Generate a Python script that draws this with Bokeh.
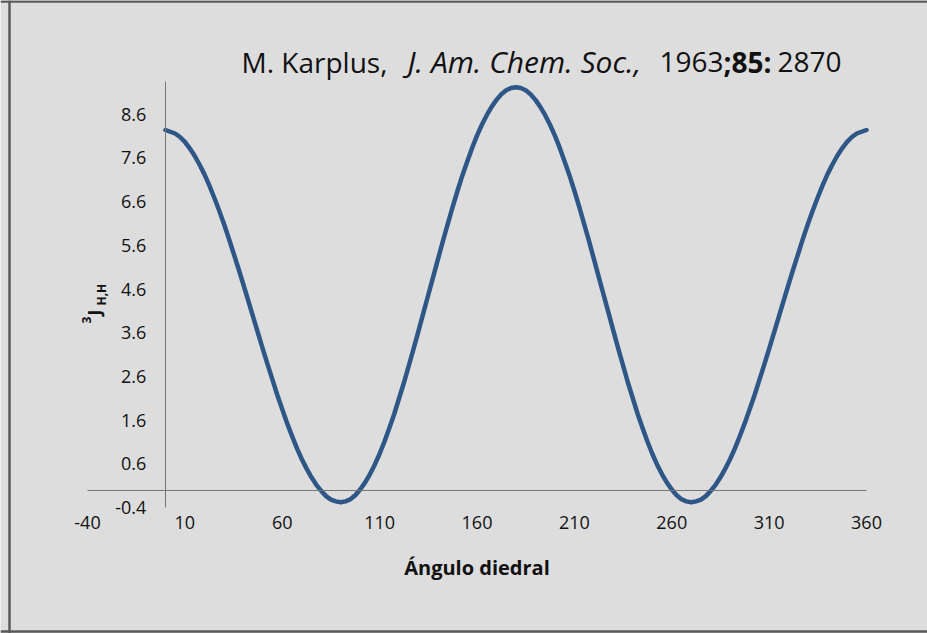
import math
from bokeh.plotting import figure
from bokeh.models import Range1d, FixedTicker, Span, Label, LinearAxis
from bokeh.embed import file_html
from bokeh.resources import INLINE

# ---- data (every 2.5 degrees) ----
angles = [a / 2 for a in range(0, 721, 5)]
j_values = [
    # 0 .. 90
    8.24, 8.20, 8.16, 8.08, 7.97, 7.82, 7.65, 7.45, 7.23, 6.98, 6.70, 6.41, 6.10, 5.77, 5.42, 5.07, 4.71, 4.34, 3.97,
    3.60, 3.23, 2.87, 2.52, 2.17, 1.85, 1.53, 1.24, 0.96, 0.71, 0.49, 0.29, 0.12, -0.02, -0.14, -0.22, -0.26, -0.28,
    # 92.5 .. 180
    -0.26, -0.21, -0.12, 0.01, 0.17, 0.36, 0.58, 0.83, 1.11, 1.42, 1.74, 2.10, 2.46, 2.85, 3.24, 3.65, 4.06, 4.47,
    4.88, 5.29, 5.70, 6.09, 6.48, 6.85, 7.20, 7.52, 7.83, 8.11, 8.36, 8.58, 8.77, 8.93, 9.06, 9.15, 9.20, 9.22,
    # 182.5 .. 270
    9.20, 9.15, 9.06, 8.93, 8.77, 8.58, 8.36, 8.11, 7.83, 7.52, 7.20, 6.85, 6.48, 6.09, 5.70, 5.29, 4.88, 4.47,
    4.06, 3.65, 3.24, 2.85, 2.46, 2.10, 1.74, 1.42, 1.11, 0.83, 0.58, 0.36, 0.17, 0.01, -0.12, -0.21, -0.26, -0.28,
    # 272.5 .. 360
    -0.26, -0.22, -0.14, -0.02, 0.12, 0.29, 0.49, 0.71, 0.96, 1.24, 1.53, 1.85, 2.17, 2.52, 2.87, 3.23, 3.60, 3.97,
    4.34, 4.71, 5.07, 5.42, 5.77, 6.10, 6.41, 6.70, 6.98, 7.23, 7.45, 7.65, 7.82, 7.97, 8.08, 8.16, 8.20, 8.24,
]
x_ticks = [-40, 10, 60, 110, 160, 210, 260, 310, 360]
x_tick_labels = ["-40", "10", "60", "110", "160", "210", "260", "310", "360"]
y_ticks = [-0.4, 0.6, 1.6, 2.6, 3.6, 4.6, 5.6, 6.6, 7.6, 8.6]
y_tick_labels = ["-0.4", "0.6", "1.6", "2.6", "3.6", "4.6", "5.6", "6.6", "7.6", "8.6"]
x_axis_label = "Ángulo diedral"
y_axis_parts = ["3", "J", "H,H"]
title_parts = ["M. Karplus,", "J. Am. Chem. Soc.,", "1963", ";85:", "2870"]

# value extent of the plotting area
X0, X1 = -40, 360
Y0, Y1 = -0.4, 9.35

# ---- layout (pixels) ----
W, H = 927, 633
PL, PR, PT, PB = 87, 866, 81, 507          # plotting area box on the canvas
FONT = "Open Sans"
BG = "#dddddd"
AXIS = "#767676"
TXT = "#111111"
BORDER = "#5a5a5a"

kx = (PR - PL) / (X1 - X0)
ky = (PB - PT) / (Y1 - Y0)

def px(v):
    return X0 + (v - PL) / kx

def py(v):
    return Y1 - (v - PT) / ky

p = figure(frame_width=W, frame_height=H, min_border=0,
           x_range=Range1d(px(0), px(W)), y_range=Range1d(py(H), py(0)),
           x_axis_location=None, y_axis_location=None,
           output_backend="svg", toolbar_location=None,
           background_fill_color=BG, border_fill_color=BG)
p.outline_line_color = None
p.grid.visible = False

# chart border (left, top, bottom)
p.add_layout(Span(location=px(9), dimension="height", line_color=BORDER, line_width=2.5))
p.add_layout(Span(location=py(1), dimension="width", line_color=BORDER, line_width=2.5))
p.add_layout(Span(location=py(631), dimension="width", line_color=BORDER, line_width=2.5))

# curve
p.line(angles, j_values, line_color="#2e5686", line_width=4.5, line_join="round", line_cap="round")

# x axis line at y = 0
x_line = LinearAxis(fixed_location=0, bounds=(X0, X1), ticker=FixedTicker(ticks=[]),
                    axis_line_color=AXIS, axis_line_width=1,
                    major_tick_line_color=None, minor_tick_line_color=None)
p.add_layout(x_line, "below")

# x tick labels and title at the bottom of the plotting area
xa = LinearAxis(fixed_location=Y0, bounds=(X0, X1), ticker=FixedTicker(ticks=x_ticks),
                axis_line_color=None, major_tick_line_color=None, minor_tick_line_color=None,
                major_tick_out=0, major_tick_in=0)
xa.major_label_overrides = {t: s for t, s in zip(x_ticks, x_tick_labels)}
xa.major_label_text_font = FONT
xa.major_label_text_font_size = "18px"
xa.major_label_text_color = TXT
xa.major_label_standoff = 8
xa.axis_label = x_axis_label
xa.axis_label_text_font = FONT
xa.axis_label_text_font_style = "bold"
xa.axis_label_text_font_size = "20px"
xa.axis_label_text_color = TXT
xa.axis_label_standoff = 22
p.add_layout(xa, "below")

# y axis at x = 0
ya = LinearAxis(fixed_location=0, bounds=(Y0, Y1), ticker=FixedTicker(ticks=y_ticks),
                axis_line_color=AXIS, axis_line_width=1,
                major_tick_line_color=None, minor_tick_line_color=None,
                major_tick_out=0, major_tick_in=0)
ya.major_label_overrides = {t: s for t, s in zip(y_ticks, y_tick_labels)}
ya.major_label_text_font = FONT
ya.major_label_text_font_size = "18px"
ya.major_label_text_color = TXT
ya.major_label_standoff = 19
p.add_layout(ya, "left")

# title in mixed styles
title_x = [241, 407, 659, 723, 777]
title_style = ["normal", "italic", "normal", "bold", "normal"]
title_size = ["28px", "30px", "28px", "28px", "28px"]
for t, x, st, s in zip(title_parts, title_x, title_style, title_size):
    p.add_layout(Label(x=px(x), y=py(61), text=t, text_font=FONT, text_font_size=s,
                       text_font_style=st, text_color=TXT, text_baseline="alphabetic", text_align="left"))

# y axis title: superscript 3, J, subscript H,H (rotated)
ylab_x = [86, 93, 101]
ylab_y = [323, 315, 305]
ylab_size = ["12px", "18px", "12px"]
for t, x, y, s in zip(y_axis_parts, ylab_x, ylab_y, ylab_size):
    p.add_layout(Label(x=px(x), y=py(y), text=t, angle=math.pi / 2, text_font=FONT, text_font_size=s,
                       text_font_style="bold", text_color=TXT, text_baseline="alphabetic", text_align="left"))

open("out.html", "w").write(file_html(p, INLINE))
